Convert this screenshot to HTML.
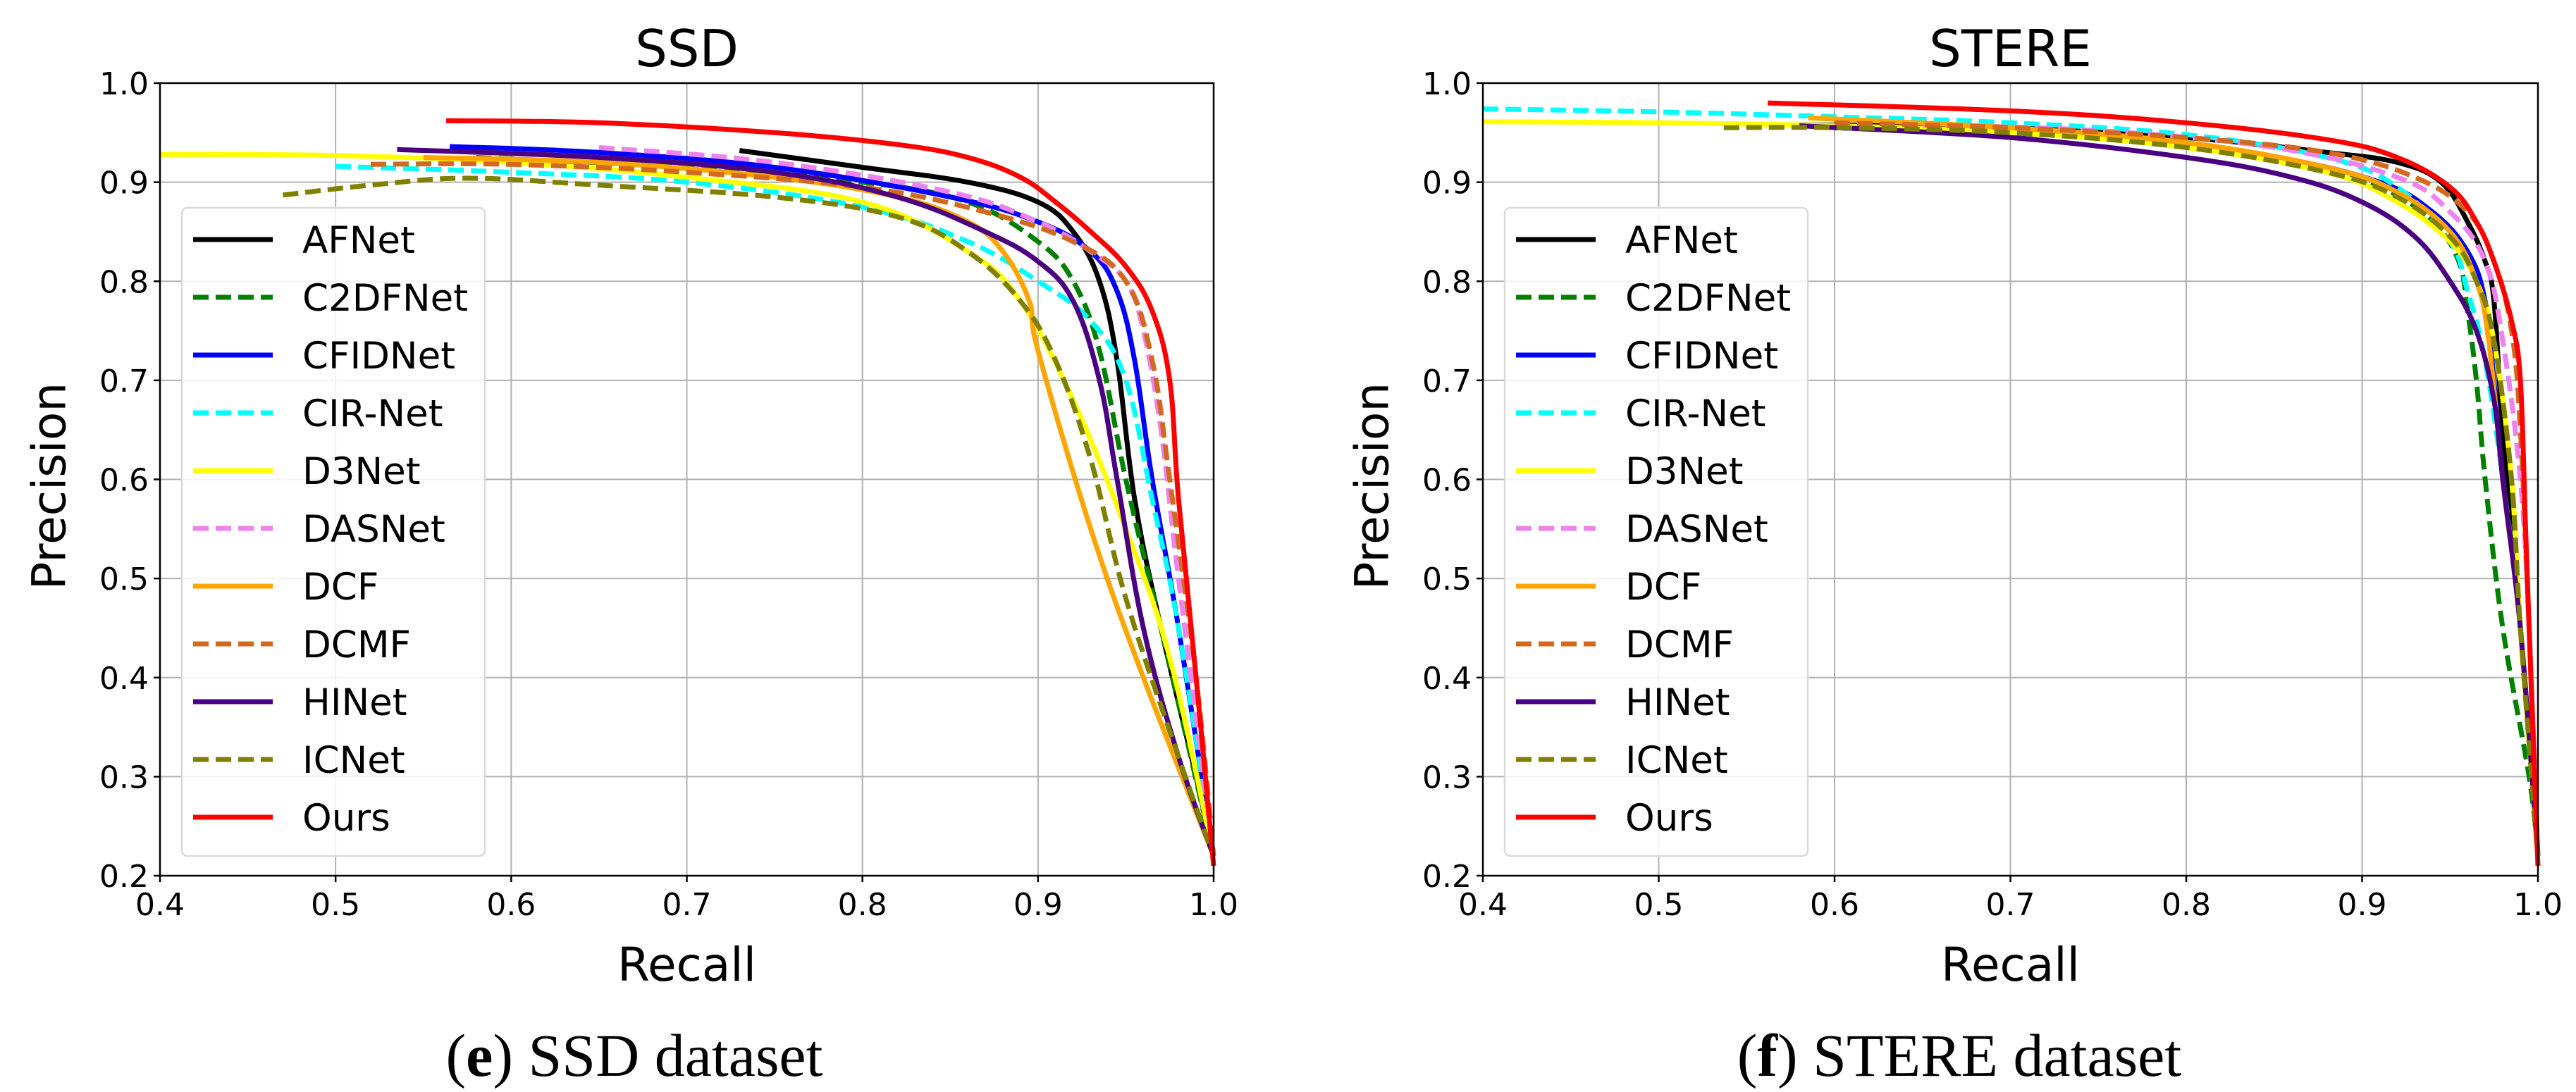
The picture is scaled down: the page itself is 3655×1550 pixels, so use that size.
<!DOCTYPE html>
<html><head><meta charset="utf-8">
<style>
html,body{margin:0;padding:0;background:#fff;}
svg{display:block;font-family:"DejaVu Sans","Liberation Sans",sans-serif;}
</style></head>
<body>
<svg id="fig" width="3655" height="1550" viewBox="0 0 3655 1550" xmlns="http://www.w3.org/2000/svg">
<rect width="3655" height="1550" fill="#fff"/>
<text x="900" y="1527" font-family="Liberation Serif, serif" font-size="86" text-anchor="middle">(<tspan font-weight="bold">e</tspan>) SSD dataset</text>
<text x="2780" y="1527" font-family="Liberation Serif, serif" font-size="86" text-anchor="middle">(<tspan font-weight="bold">f</tspan>) STERE dataset</text>
</svg>
<script>
const names = ["AFNet","C2DFNet","CFIDNet","CIR-Net","D3Net","DASNet","DCF","DCMF","HINet","ICNet","Ours"];
const colors = ["#000000","#008000","#0000ff","#00ffff","#ffff00","#ee82ee","#ffa500","#d2691e","#4b0082","#808000","#ff0000"];
const dashed = [false,true,false,true,false,true,false,true,false,true,false];
const xTicks = [0.4,0.5,0.6,0.7,0.8,0.9,1.0];
const yTicks = [0.2,0.3,0.4,0.5,0.6,0.7,0.8,0.9,1.0];
const xTickLabels = ["0.4","0.5","0.6","0.7","0.8","0.9","1.0"];
const yTickLabels = ["0.2","0.3","0.4","0.5","0.6","0.7","0.8","0.9","1.0"];

const ssdRecall = {
AFNet:[0.73,0.8,0.86,0.9,0.92,0.935,0.945,0.955,0.97,0.99,1.0],
C2DFNet:[0.58,0.7,0.8,0.86,0.9,0.92,0.935,0.95,0.97,1.0],
CFIDNet:[0.565,0.65,0.75,0.85,0.9,0.93,0.945,0.955,0.965,0.98,1.0],
"CIR-Net":[0.5,0.6,0.7,0.8,0.86,0.9,0.93,0.95,0.965,0.98,1.0],
D3Net:[0.4,0.5,0.6,0.7,0.8,0.86,0.89,0.92,0.95,0.975,1.0],
DASNet:[0.65,0.75,0.85,0.9,0.93,0.95,0.96,0.97,0.98,1.0],
DCF:[0.55,0.65,0.75,0.82,0.86,0.88,0.895,0.9,0.93,0.96,1.0],
DCMF:[0.52,0.6,0.7,0.8,0.87,0.92,0.95,0.965,0.975,0.99,1.0],
HINet:[0.535,0.65,0.75,0.82,0.87,0.9,0.92,0.935,0.945,0.96,0.98,1.0],
ICNet:[0.47,0.52,0.575,0.65,0.75,0.82,0.86,0.89,0.91,0.93,0.95,0.98,1.0],
Ours:[0.563,0.65,0.75,0.82,0.86,0.89,0.91,0.93,0.95,0.965,0.975,0.98,0.99,1.0]};
const ssdPrecision = {
AFNet:[0.932,0.915,0.9,0.88,0.85,0.8,0.72,0.58,0.45,0.3,0.22],
C2DFNet:[0.925,0.915,0.9,0.88,0.84,0.8,0.73,0.6,0.45,0.22],
CFIDNet:[0.936,0.93,0.915,0.885,0.86,0.83,0.79,0.72,0.6,0.45,0.22],
"CIR-Net":[0.916,0.91,0.9,0.875,0.84,0.8,0.76,0.7,0.58,0.45,0.22],
D3Net:[0.928,0.927,0.92,0.905,0.88,0.83,0.78,0.68,0.55,0.42,0.22],
DASNet:[0.935,0.92,0.89,0.86,0.83,0.8,0.75,0.65,0.5,0.22],
DCF:[0.925,0.92,0.905,0.885,0.86,0.83,0.78,0.73,0.55,0.4,0.22],
DCMF:[0.918,0.918,0.91,0.895,0.87,0.84,0.8,0.72,0.6,0.4,0.22],
HINet:[0.933,0.925,0.91,0.885,0.85,0.82,0.78,0.7,0.6,0.45,0.32,0.22],
ICNet:[0.887,0.897,0.904,0.897,0.885,0.865,0.83,0.78,0.72,0.62,0.48,0.32,0.22],
Ours:[0.962,0.96,0.95,0.938,0.925,0.905,0.88,0.85,0.815,0.77,0.7,0.58,0.4,0.21]};

const stereRecall = {
AFNet:[0.58,0.7,0.8,0.88,0.92,0.945,0.96,0.97,0.975,0.98,0.99,1.0],
C2DFNet:[0.6,0.75,0.85,0.91,0.94,0.955,0.96,0.965,0.97,0.98,0.995,1.0],
CFIDNet:[0.6,0.75,0.85,0.91,0.94,0.96,0.97,0.975,0.98,0.99,1.0],
"CIR-Net":[0.4,0.5,0.6,0.7,0.8,0.88,0.92,0.95,0.96,0.97,0.98,0.99,1.0],
D3Net:[0.4,0.5,0.6,0.7,0.8,0.88,0.92,0.95,0.965,0.975,0.985,0.99,1.0],
DASNet:[0.65,0.75,0.85,0.92,0.95,0.97,0.98,0.99,0.995,1.0],
DCF:[0.585,0.7,0.8,0.88,0.92,0.95,0.965,0.972,0.98,0.99,1.0],
DCMF:[0.6,0.7,0.8,0.88,0.93,0.96,0.975,0.985,0.99,0.995,1.0],
HINet:[0.58,0.7,0.8,0.86,0.9,0.93,0.95,0.965,0.975,0.98,0.99,1.0],
ICNet:[0.537,0.6,0.7,0.8,0.88,0.92,0.95,0.965,0.975,0.985,0.99,1.0],
Ours:[0.562,0.7,0.8,0.88,0.92,0.95,0.965,0.975,0.985,0.99,0.993,0.996,1.0]};
const sterePrecision = {
AFNet:[0.958,0.955,0.945,0.93,0.92,0.9,0.86,0.82,0.78,0.65,0.45,0.22],
C2DFNet:[0.955,0.945,0.925,0.895,0.86,0.82,0.77,0.7,0.6,0.45,0.3,0.22],
CFIDNet:[0.955,0.945,0.925,0.9,0.87,0.83,0.78,0.7,0.6,0.45,0.22],
"CIR-Net":[0.974,0.971,0.966,0.96,0.948,0.925,0.895,0.84,0.79,0.72,0.6,0.45,0.22],
D3Net:[0.961,0.96,0.957,0.95,0.935,0.91,0.88,0.84,0.8,0.74,0.6,0.45,0.22],
DASNet:[0.958,0.952,0.935,0.905,0.87,0.82,0.74,0.6,0.45,0.22],
DCF:[0.965,0.955,0.94,0.915,0.89,0.85,0.8,0.74,0.6,0.45,0.22],
DCMF:[0.96,0.955,0.945,0.93,0.905,0.87,0.82,0.75,0.65,0.45,0.22],
HINet:[0.957,0.945,0.925,0.905,0.88,0.845,0.8,0.75,0.68,0.6,0.45,0.22],
ICNet:[0.955,0.955,0.95,0.935,0.91,0.885,0.845,0.8,0.74,0.6,0.45,0.22],
Ours:[0.98,0.972,0.96,0.943,0.925,0.895,0.86,0.82,0.76,0.7,0.55,0.4,0.21]};

const NS = "http://www.w3.org/2000/svg";
const svg = document.getElementById('fig');
function mk(tag, attrs, parent){ const e=document.createElementNS(NS,tag); for(const k in attrs) e.setAttribute(k,attrs[k]); (parent||svg).appendChild(e); return e; }

function smoothPath(p){
  let d='M'+p[0][0].toFixed(1)+','+p[0][1].toFixed(1);
  const t=0.18;
  for(let i=0;i<p.length-1;i++){
    const p0=p[Math.max(0,i-1)], p1=p[i], p2=p[i+1], p3=p[Math.min(p.length-1,i+2)];
    const c1=[p1[0]+(p2[0]-p0[0])*t, p1[1]+(p2[1]-p0[1])*t];
    const c2=[p2[0]-(p3[0]-p1[0])*t, p2[1]-(p3[1]-p1[1])*t];
    d+=' C'+c1[0].toFixed(1)+','+c1[1].toFixed(1)+' '+c2[0].toFixed(1)+','+c2[1].toFixed(1)+' '+p2[0].toFixed(1)+','+p2[1].toFixed(1);
  }
  return d;
}

function drawPanel(key, title, L, R, rec, prec, legX, ylabX){
  const T=118, B=1243;
  const xs = r => L + (r-0.4)/0.6*(R-L);
  const ys = p => T + (1-p)/0.8*(B-T);
  const g = mk('g',{});
  
  
  const clipId='clip-'+key;
  const cp=mk('clipPath',{id:clipId},g);
  mk('rect',{x:L,y:T-10,width:R-L+10,height:B-T+10},cp);
  xTicks.forEach((t,i)=>{
    const x=xs(t);
    const gl=mk('line',{x1:x,x2:x,y1:T,y2:B,stroke:'#b0b0b0','stroke-width':2},g);
    
    
    mk('line',{x1:x,x2:x,y1:B,y2:B+9,stroke:'#000','stroke-width':2.5},g);
    const tl=mk('text',{x:x,y:B+56,'font-size':44,'text-anchor':'middle'},g);
    tl.textContent=xTickLabels[i];
    
    
  });
  yTicks.forEach((t,i)=>{
    const y=ys(t);
    const gl=mk('line',{x1:L,x2:R,y1:y,y2:y,stroke:'#b0b0b0','stroke-width':2},g);
    
    
    mk('line',{x1:L-9,x2:L,y1:y,y2:y,stroke:'#000','stroke-width':2.5},g);
    const tl=mk('text',{x:L-16,y:y+16,'font-size':44,'text-anchor':'end'},g);
    tl.textContent=yTickLabels[i];
    
    
  });
  names.forEach((n,i)=>{
    const pts = rec[n].map((r,j)=>[xs(r), ys(prec[n][j])]);
    const a={d:smoothPath(pts),fill:'none',stroke:colors[i],'stroke-width':7,'stroke-linejoin':'round','clip-path':'url(#'+clipId+')'};
    if(dashed[i]) a['stroke-dasharray']='22 10';
    const pl=mk('path',a,g);
    
    
  });
  const fr=mk('rect',{x:L,y:T,width:R-L,height:B-T,fill:'none',stroke:'#000','stroke-width':2.5},g);
  
  
  const tt=mk('text',{x:(L+R)/2,y:94,'font-size':72,'text-anchor':'middle'},g);
  tt.textContent=title;
  
  
  const xl=mk('text',{x:(L+R)/2,y:1392,'font-size':66,'text-anchor':'middle'},g);
  xl.textContent='Recall';
  
  
  const yl=mk('text',{x:0,y:0,'font-size':66,'text-anchor':'middle','dominant-baseline':'central',transform:'translate('+(ylabX)+',690) rotate(-90)'},g);
  yl.textContent='Precision';
  
  
  const lg=mk('g',{},g);
  
  
  mk('rect',{x:legX,y:295,width:430,height:920,rx:8,fill:'#fff','fill-opacity':0.85,stroke:'#d9d9d9','stroke-width':2.5},lg);
  names.forEach((n,i)=>{
    const y=340+i*82;
    const e=mk('g',{},lg);
    
    
    const a={x1:legX+16,x2:legX+129,y1:y,y2:y,stroke:colors[i],'stroke-width':7};
    if(dashed[i]) a['stroke-dasharray']='22 10';
    mk('line',a,e);
    const t=mk('text',{x:legX+171,y:y+19,'font-size':53},e);
    t.textContent=n;
  });
}
drawPanel('ssd','SSD',227,1722,ssdRecall,ssdPrecision,258,70);
drawPanel('stere','STERE',2104,3601,stereRecall,sterePrecision,2135,1947);
</script>
</body></html>
